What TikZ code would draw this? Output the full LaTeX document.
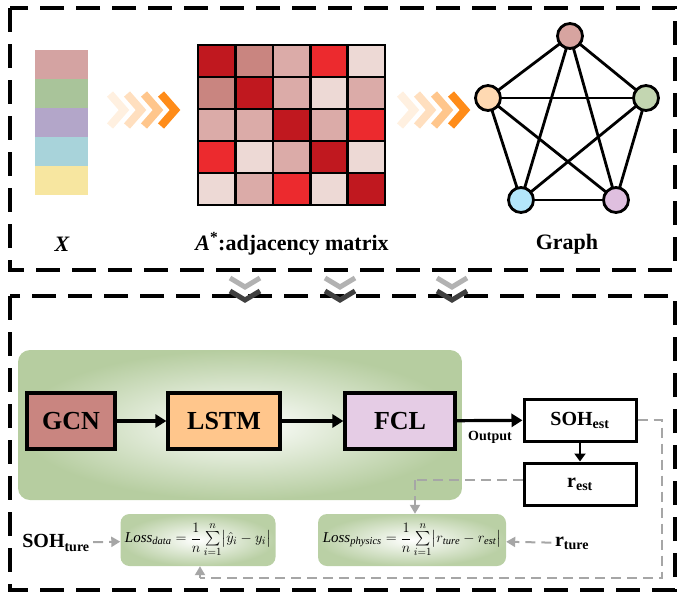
\documentclass[tikz,border=0pt]{standalone}
\usepackage{amsmath}
\usepackage{fontspec}
\setmainfont{Liberation Serif}
\usetikzlibrary{arrows.meta,shadings}
\definecolor{cD}{HTML}{C0181F}\definecolor{cM}{HTML}{C98580}\definecolor{cL}{HTML}{DBABA8}
\definecolor{cR}{HTML}{EC2A2E}\definecolor{cP}{HTML}{EDD9D5}
\definecolor{gr}{HTML}{A9C48F}
\tikzset{frame/.style={line width=4.5pt,dash pattern=on 24pt off 12pt},
 cell/.style={draw=black,line width=2.6pt},
 blk/.style={draw=black,line width=3.2pt,minimum height=56pt,font=\bfseries\fontsize{26}{26}\selectfont},
 obox/.style={draw=black,line width=3pt,minimum width=112pt,minimum height=42pt,font=\bfseries\fontsize{20}{20}\selectfont},
 gnode/.style={circle,draw=black,line width=2.8pt,minimum size=25pt,inner sep=0pt},
 ar/.style={line width=3.2pt,-{Triangle[length=11pt,width=13pt]}},
 gd/.style={draw=gray!70,line width=2pt,dash pattern=on 10pt off 6pt},
 ga/.style={gd,-{Triangle[length=9pt,width=10pt]}},
 lossbox/.style={rounded corners=9pt,inner color=white,outer color=gr!80,minimum height=52pt,inner sep=2pt},
 chev/.style={line width=8pt}}
\begin{document}
\begin{tikzpicture}[x=1pt,y=-1pt]
\useasboundingbox (0,0) rectangle (685,598);
\draw[frame] (10,8) rectangle (675,270);
\draw[frame] (10,296) rectangle (675,590);
% X column
\foreach \c [count=\i] in {{D4A3A2},{A9C49A},{B3A6C9},{A8D3DA},{F7E6A0}}{
  \definecolor{tmp}{HTML}{\c}
  \fill[tmp] (35,{50+29*(\i-1)}) rectangle (88,{50+29*\i});}
\node (X) at (62,244) {\fontsize{22}{22}\selectfont\bfseries\itshape X};
% chevrons
\foreach \x/\o in {0/12,1/25,2/45,3/90}{
  \draw[orange!\o!white,chev] ({110+17*\x},94) -- ({124+17*\x},110) -- ({110+17*\x},126);
  \draw[orange!\o!white,chev] ({400+17*\x},94) -- ({414+17*\x},110) -- ({400+17*\x},126);}
% matrix
\foreach \row [count=\r] in {{D,M,L,R,P},{M,D,L,P,L},{L,L,D,L,R},{R,P,L,D,P},{P,L,R,P,D}}{
  \foreach \c [count=\k] in \row {
    \draw[cell,fill=c\c] ({198+37.4*(\k-1)},{45+32*(\r-1)}) rectangle ++(37.4,32);}}
\node (A) at (292,244) {\fontsize{22}{22}\selectfont\bfseries \textit{A}\textsuperscript{*}:adjacency matrix};
% graph
\foreach \a/\b in {1/2,1/3,1/4,1/5,2/3,2/4,2/5,3/4,3/5,4/5}{}
\coordinate (p1) at (570,36);\coordinate (p2) at (488,98);\coordinate (p3) at (646,98);
\coordinate (p4) at (521,200);\coordinate (p5) at (616,200);
\foreach \a/\b in {p1/p2,p1/p3,p1/p4,p1/p5,p2/p3,p2/p4,p2/p5,p3/p4,p3/p5,p4/p5}
  \draw[line width=2.8pt] (\a) -- (\b);
\node[gnode,fill=cM!75] (g1) at (p1) {};
\node[gnode,fill=orange!30] (g2) at (p2) {};
\node[gnode,fill=gr!70] (g3) at (p3) {};
\node[gnode,fill=cyan!30] (g4) at (p4) {};
\node[gnode,fill=violet!25] (g5) at (p5) {};
\node (G) at (567,244) {\fontsize{22}{22}\selectfont\bfseries Graph};
% gray down chevrons
\foreach \x in {245,340,452}{
  \draw[gray!60,line width=5pt] (\x-15,278) -- (\x,287) -- (\x+15,278);
  \draw[black!75,line width=5pt] (\x-15,291) -- (\x,300) -- (\x+15,291);}
% green panel
\shade[rounded corners=12pt,inner color=white,outer color=gr!85] (18,350) rectangle (462,500);
\node[blk,fill=cM,minimum width=88pt] (gcn) at (71,421) {GCN};
\node[blk,fill=orange!45,minimum width=112pt] (lstm) at (224,421) {LSTM};
\node[blk,fill=violet!20,minimum width=110pt] (fcl) at (400,421) {FCL};
\node[obox] (soh) at (580,420) {SOH\textsubscript{est}};
\node[obox] (rest) at (580,484) {r\textsubscript{est}};
\draw[ar] (gcn) -- (lstm);
\draw[ar] (lstm) -- (fcl);
\draw[ar] (fcl) -- (soh);
\node[font=\bfseries\fontsize{14}{14}\selectfont] (out) at (490,437) {Output};
\draw[line width=2.6pt,-{Triangle[length=8pt,width=11pt]}] (soh) -- (rest);
% losses
\node[lossbox,minimum width=155pt] (ld) at (198,540) {\fontsize{15}{15}\selectfont$\mathit{Loss}_{\mathit{data}}=\dfrac{1}{n}\sum\limits_{i=1}^{n}\bigl|\hat{y}_i-y_i\bigr|$};
\node[lossbox,minimum width=188pt] (lp) at (412,540) {\fontsize{15}{15}\selectfont$\mathit{Loss}_{\mathit{physics}}=\dfrac{1}{n}\sum\limits_{i=1}^{n}\bigl|r_{\mathit{ture}}-r_{\mathit{est}}\bigr|$};
\node[font=\bfseries\fontsize{20}{20}\selectfont] (sohT) at (56,543) {SOH\textsubscript{ture}};
\node[font=\bfseries\fontsize{20}{20}\selectfont] (rT) at (572,543) {r\textsubscript{ture}};
\draw[ga] (sohT) -- (ld);
\draw[ga] (rT) -- (lp);
\coordinate (c1) at (662,420);
\coordinate (c2) at (662,578);
\coordinate (c3) at (200,578);
\draw[gd] (soh.east) -- (c1) -- (c2) -- (c3);
\draw[ga] (c3) -- (ld.south -| c3);
\coordinate (c4) at (415,480);
\draw[gd] (rest.west |- c4) -- (c4);
\draw[ga] (c4) -- (lp.north -| c4);
\end{tikzpicture}
\end{document}
